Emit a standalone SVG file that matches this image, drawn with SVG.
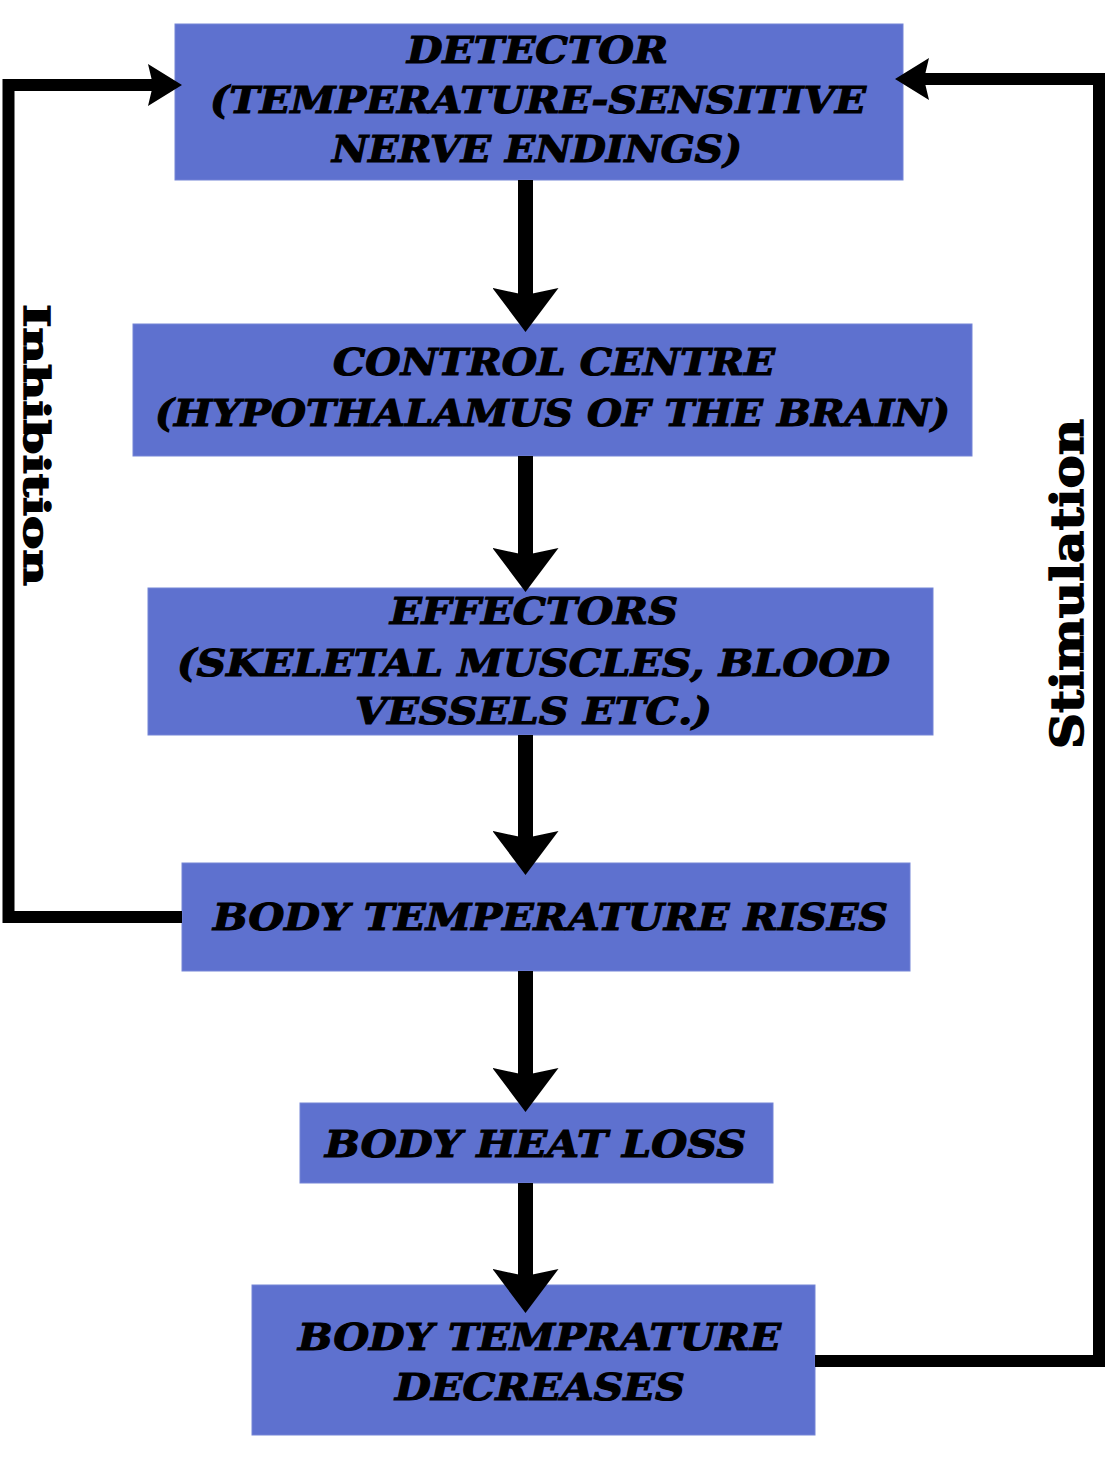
<svg xmlns="http://www.w3.org/2000/svg" width="1108" height="1459" viewBox="0 0 1108 1459">
<style>
.box{fill:#5e71cf;stroke:#7485d6;stroke-width:1}
.t{font-family:"DejaVu Serif","Liberation Serif",serif;font-weight:bold;font-style:italic;font-size:38px;fill:#000;stroke:#000;stroke-width:1.2}
.side{font-family:"DejaVu Serif","Liberation Serif",serif;font-weight:bold;fill:#000;stroke:#000;stroke-width:1.4}
.main{fill:none;stroke:#000;stroke-width:15;marker-end:url(#headBig)}
.loop{fill:none;stroke:#000;stroke-width:12;stroke-linejoin:miter;marker-end:url(#headSmall)}
</style>
<defs>
<marker id="headBig" viewBox="0 0 44 66" refX="10" refY="33" markerWidth="44" markerHeight="66" markerUnits="userSpaceOnUse" orient="auto">
<path d="M0,0 L44,33 L0,66 L7,33 Z" fill="#000"/>
</marker>
<marker id="headSmall" viewBox="0 0 34 42" refX="9" refY="21" markerWidth="34" markerHeight="42" markerUnits="userSpaceOnUse" orient="auto">
<path d="M0,0 L34,21 L0,42 L5,21 Z" fill="#000"/>
</marker>
</defs>
<rect width="1108" height="1459" fill="#fff"/>

<g id="detector">
<rect class="box" x="175" y="24" width="728" height="156"/>
<text class="t" x="407" y="63" textLength="261" lengthAdjust="spacingAndGlyphs">DETECTOR</text>
<text class="t" x="210" y="113" textLength="656" lengthAdjust="spacingAndGlyphs">(TEMPERATURE-SENSITIVE</text>
<text class="t" x="332" y="162" textLength="410" lengthAdjust="spacingAndGlyphs">NERVE ENDINGS)</text>
</g>
<g id="control">
<rect class="box" x="133" y="324" width="839" height="132"/>
<text class="t" x="333" y="375" textLength="442" lengthAdjust="spacingAndGlyphs">CONTROL CENTRE</text>
<text class="t" x="155" y="426" textLength="795" lengthAdjust="spacingAndGlyphs">(HYPOTHALAMUS OF THE BRAIN)</text>
</g>
<g id="effectors">
<rect class="box" x="148" y="588" width="785" height="147"/>
<text class="t" x="390" y="624" textLength="288" lengthAdjust="spacingAndGlyphs">EFFECTORS</text>
<text class="t" x="177" y="676" textLength="713" lengthAdjust="spacingAndGlyphs">(SKELETAL MUSCLES, BLOOD</text>
<text class="t" x="355" y="724" textLength="357" lengthAdjust="spacingAndGlyphs">VESSELS ETC.)</text>
</g>
<g id="rises">
<rect class="box" x="182" y="863" width="728" height="108"/>
<text class="t" x="213" y="930" textLength="675" lengthAdjust="spacingAndGlyphs">BODY TEMPERATURE RISES</text>
</g>
<g id="heatloss">
<rect class="box" x="300" y="1103" width="473" height="80"/>
<text class="t" x="325" y="1157" textLength="421" lengthAdjust="spacingAndGlyphs">BODY HEAT LOSS</text>
</g>
<g id="decreases">
<rect class="box" x="252" y="1285" width="563" height="150"/>
<text class="t" x="298" y="1350" textLength="483" lengthAdjust="spacingAndGlyphs">BODY TEMPRATURE</text>
<text class="t" x="395" y="1400" textLength="290" lengthAdjust="spacingAndGlyphs">DECREASES</text>
</g>

<g id="connectors">
<path class="main" d="M525.5,180 V298"/>
<path class="main" d="M525.5,456 V558"/>
<path class="main" d="M525.5,735 V841"/>
<path class="main" d="M525.5,971 V1078"/>
<path class="main" d="M525.5,1183 V1279"/>
<path class="loop" d="M182,917 H8.5 V85 H157"/>
<path class="loop" d="M815,1361 H1099 V79 H920"/>
</g>

<g id="labels">
<text class="side" font-size="36" transform="translate(24,304) rotate(90)" textLength="282" lengthAdjust="spacingAndGlyphs">Inhibition</text>
<text class="side" font-size="44" transform="translate(1083,749) rotate(-90)" textLength="330" lengthAdjust="spacingAndGlyphs">Stimulation</text>
</g>
</svg>
